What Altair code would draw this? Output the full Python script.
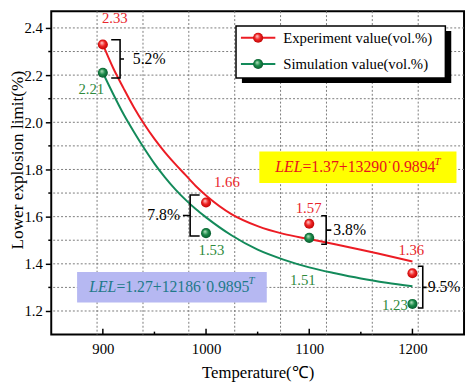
import altair as alt
import pandas as pd

SERIF = "Liberation Serif"

# ---------------- data ----------------
temps = [900, 1000, 1100, 1200]
exp_vals = [2.33, 1.66, 1.57, 1.36]
sim_vals = [2.21, 1.53, 1.51, 1.23]

fit_T = [900, 910, 920, 930, 940, 950, 960, 970, 980, 990, 1000,
         1025, 1050, 1075, 1100, 1125, 1150, 1175, 1200]
exp_fit = [2.33, 2.23, 2.145, 2.064, 1.993, 1.93, 1.874, 1.824, 1.777, 1.73, 1.69,
           1.61, 1.56, 1.527, 1.505, 1.483, 1.46, 1.435, 1.41]
sim_fit = [2.21, 2.12, 2.035, 1.96, 1.89, 1.825, 1.768, 1.717, 1.672, 1.632, 1.597,
           1.52, 1.46, 1.418, 1.385, 1.36, 1.338, 1.32, 1.305]

exp_labels = ["2.33", "1.66", "1.57", "1.36"]
sim_labels = ["2.21", "1.53", "1.51", "1.23"]
diff_labels = ["5.2%", "7.8%", "3.8%", "9.5%"]

x_ticks = [900, 1000, 1100, 1200]
x_minor = [950, 1050, 1150]
y_ticks = [1.2, 1.4, 1.6, 1.8, 2.0, 2.2, 2.4]
y_minor = [1.3, 1.5, 1.7, 1.9, 2.1, 2.3]
grid_y = [1.2, 1.3, 1.4, 1.5, 1.6, 1.7, 1.8, 1.9, 2.0, 2.1, 2.2, 2.3, 2.4]
grid_x = [894.4, 938.9, 983.3, 1027.8, 1072.2, 1116.7, 1161.1, 1205.6]

# annotation placement (data units)
exp_label_pos = [(911.6, 2.442), (1020.2, 1.747), (1099.4, 1.638), (1198.9, 1.457)]
sim_label_pos = [(888.8, 2.139), (1005.2, 1.457), (1093.8, 1.332), (1183.0, 1.226)]
diff_label_pos = [(929.0, 2.268, "left"), (974.8, 1.605, "right"),
                  (1123.3, 1.543, "left"), (1214.8, 1.30, "left")]
braces = [  # hook_x, vert_x, tip_x, top, mid, bottom
    (908.1, 916.7, 920.5, 2.35, 2.268, 2.1875),
    (993.8, 984.6, 977.6, 1.692, 1.605, 1.518),
    (1111.6, 1116.4, 1121.4, 1.604, 1.543, 1.483),
    (1205.2, 1210.0, 1213.8, 1.390, 1.30, 1.2125),
]

W, H = 420, 329
RED = "#ec1c24"
GREEN = "#138a5a"
RED_TXT = "#e8262b"
GREEN_TXT = "#2f8a3c"

xs = alt.Scale(domain=[850, 1250], nice=False, zero=False)
ys = alt.Scale(domain=[1.1, 2.4708], nice=False, zero=False)

x_axis = alt.Axis(values=x_ticks, format="d", labelFont=SERIF, labelFontSize=15,
                  labelColor="black", labelPadding=7, ticks=False, tickSize=0,
                  domain=False, grid=False, title="Temperature(℃)", titleFont=SERIF,
                  titleFontSize=17, titleFontWeight="normal", titleColor="black",
                  titleBaseline="alphabetic", titleY=44)
y_axis = alt.Axis(values=y_ticks, format=".1f", labelFont=SERIF, labelFontSize=15,
                  labelColor="black", labelPadding=3, tickSize=6, tickColor="black",
                  tickWidth=1.5, domain=False, grid=False,
                  title="Lower explosion limit(%)", titleFont=SERIF, titleFontSize=17.5,
                  titleFontWeight="normal", titleColor="black", titleAngle=270,
                  titleAlign="center", titleBaseline="alphabetic", titleX=-29.5, titleY=151)


def X(field="T"):
    return alt.X(f"{field}:Q", scale=xs, axis=x_axis)


def Y(field="v"):
    return alt.Y(f"{field}:Q", scale=ys, axis=y_axis)


def grad(c0, c1, c2):
    return alt.RadialGradient(
        gradient="radial",
        stops=[alt.GradientStop(color=c0, offset=0),
               alt.GradientStop(color=c1, offset=0.5),
               alt.GradientStop(color=c2, offset=1)],
        x1=0.38, y1=0.32, r1=0, x2=0.5, y2=0.5, r2=0.55)


RED_G = grad("#ffd8d8", "#f02424", "#b80000")
GREEN_G = grad("#bfe8c8", "#1a8a48", "#06552c")

one = pd.DataFrame({"k": [0]})

# grid
gy = alt.Chart(pd.DataFrame({"v": grid_y})).mark_rule(
    stroke="#7a7a7a", strokeDash=[2, 2], strokeWidth=1).encode(y=Y())
gx = alt.Chart(pd.DataFrame({"T": grid_x})).mark_rule(
    stroke="#7a7a7a", strokeDash=[2, 2], strokeWidth=1).encode(x=X())

# inward x ticks, minor y ticks
xt = alt.Chart(pd.DataFrame({"T": x_ticks})).mark_rule(color="black", strokeWidth=1.5).encode(
    x=X(), y=alt.value(H), y2=alt.value(H - 6))
xtm = alt.Chart(pd.DataFrame({"T": x_minor})).mark_rule(color="black", strokeWidth=1.5).encode(
    x=X(), y=alt.value(H), y2=alt.value(H - 3))
ytm = alt.Chart(pd.DataFrame({"v": y_minor})).mark_rule(color="black", strokeWidth=1.5).encode(
    y=Y(), x=alt.value(-3), x2=alt.value(0))

# fitted curves
exp_line = alt.Chart(pd.DataFrame({"T": fit_T, "v": exp_fit})).mark_line(
    color=RED, strokeWidth=2, interpolate="monotone").encode(x=X(), y=Y())
sim_line = alt.Chart(pd.DataFrame({"T": fit_T, "v": sim_fit})).mark_line(
    color=GREEN, strokeWidth=2, interpolate="monotone").encode(x=X(), y=Y())

# points
exp_pts = alt.Chart(pd.DataFrame({"T": temps, "v": exp_vals})).mark_circle(
    size=105, fill=RED_G, opacity=1).encode(x=X(), y=Y())
sim_pts = alt.Chart(pd.DataFrame({"T": temps, "v": sim_vals})).mark_circle(
    size=105, fill=GREEN_G, opacity=1).encode(x=X(), y=Y())

# value labels
exp_lab = alt.Chart(pd.DataFrame({"T": [p[0] for p in exp_label_pos],
                                  "v": [p[1] for p in exp_label_pos],
                                  "t": exp_labels})).mark_text(
    font=SERIF, fontSize=15, color=RED_TXT, baseline="middle").encode(x=X(), y=Y(), text="t:N")
sim_lab = alt.Chart(pd.DataFrame({"T": [p[0] for p in sim_label_pos],
                                  "v": [p[1] for p in sim_label_pos],
                                  "t": sim_labels})).mark_text(
    font=SERIF, fontSize=15, color=GREEN_TXT, baseline="middle").encode(x=X(), y=Y(), text="t:N")

# braces
rows = []
for i, (hx, vx, tx, top, mid, bot) in enumerate(braces):
    pts = [(hx, top), (vx, top), (vx, mid), (tx, mid), (vx, mid), (vx, bot), (hx, bot)]
    for j, (a, b) in enumerate(pts):
        rows.append({"id": i, "o": j, "T": a, "v": b})
brace = alt.Chart(pd.DataFrame(rows)).mark_line(color="black", strokeWidth=1.6).encode(
    x=X(), y=Y(), detail="id:N", order="o:Q")

diff_layers = []
for lab, (t, v, al) in zip(diff_labels, diff_label_pos):
    diff_layers.append(alt.Chart(pd.DataFrame({"T": [t], "v": [v], "t": [lab]})).mark_text(
        font=SERIF, fontSize=16, color="black", align=al, baseline="middle").encode(
        x=X(), y=Y(), text="t:N"))

# legend
shadow = alt.Chart(one).mark_rect(fill="black").encode(
    x=alt.value(194), x2=alt.value(407), y=alt.value(20), y2=alt.value(73))
lbox = alt.Chart(one).mark_rect(fill="white", stroke="black", strokeWidth=1.5).encode(
    x=alt.value(188), x2=alt.value(401), y=alt.value(15), y2=alt.value(68))
leg_layers = []
for yy, col, g, txt in [(27, RED, RED_G, "Experiment value(vol.%)"),
                        (53.7, GREEN, GREEN_G, "Simulation value(vol.%)")]:
    leg_layers.append(alt.Chart(one).mark_rule(color=col, strokeWidth=2).encode(
        x=alt.value(193), x2=alt.value(228), y=alt.value(yy)))
    leg_layers.append(alt.Chart(one).mark_circle(size=105, fill=g, opacity=1).encode(
        x=alt.value(210.5), y=alt.value(yy)))
    leg_layers.append(alt.Chart(one).mark_text(
        font=SERIF, fontSize=15, color="black", align="left", baseline="middle").encode(
        x=alt.value(236), y=alt.value(yy), text=alt.value(txt)))

# equation boxes
eq_layers = []
for (x0, x1, y0, y1, fillc, tcol, tx, ty, body) in [
        (211.7, 412.3, 142.7, 174.7, "#ffff00", "#e8141c", 228, 159, "=1.37+13290˙0.9894"),
        (26.3, 219.3, 265.3, 296.3, "#b6b8f2", "#1f7a8a", 38.7, 281, "=1.27+12186˙0.9895")]:
    eq_layers.append(alt.Chart(one).mark_rect(fill=fillc).encode(
        x=alt.value(x0), x2=alt.value(x1), y=alt.value(y0), y2=alt.value(y1)))
    eq_layers.append(alt.Chart(one).mark_text(
        font=SERIF, fontSize=16, fontStyle="italic", color=tcol, align="left",
        baseline="middle").encode(x=alt.value(tx), y=alt.value(ty), text=alt.value("LEL")))
    eq_layers.append(alt.Chart(one).mark_text(
        font=SERIF, fontSize=16, color=tcol, align="left", baseline="middle").encode(
        x=alt.value(tx + 27.6), y=alt.value(ty), text=alt.value(body)))
    eq_layers.append(alt.Chart(one).mark_text(
        font=SERIF, fontSize=11, fontStyle="italic", color=tcol, align="left",
        baseline="middle").encode(x=alt.value(tx + 162), y=alt.value(ty - 6), text=alt.value("T")))

chart = alt.layer(
    gy, gx, xt, xtm, ytm, exp_line, sim_line, brace, *diff_layers,
    exp_pts, sim_pts, exp_lab, sim_lab, shadow, lbox, *leg_layers, *eq_layers
).properties(
    width=W, height=H,
    autosize=alt.AutoSizeParams(type="none"),
    padding={"left": 44, "top": 0, "right": 2, "bottom": 48},
    background="white",
).configure_view(stroke="black", strokeWidth=2)

chart.save("out.html", embed_options={"renderer": "svg", "actions": False})
